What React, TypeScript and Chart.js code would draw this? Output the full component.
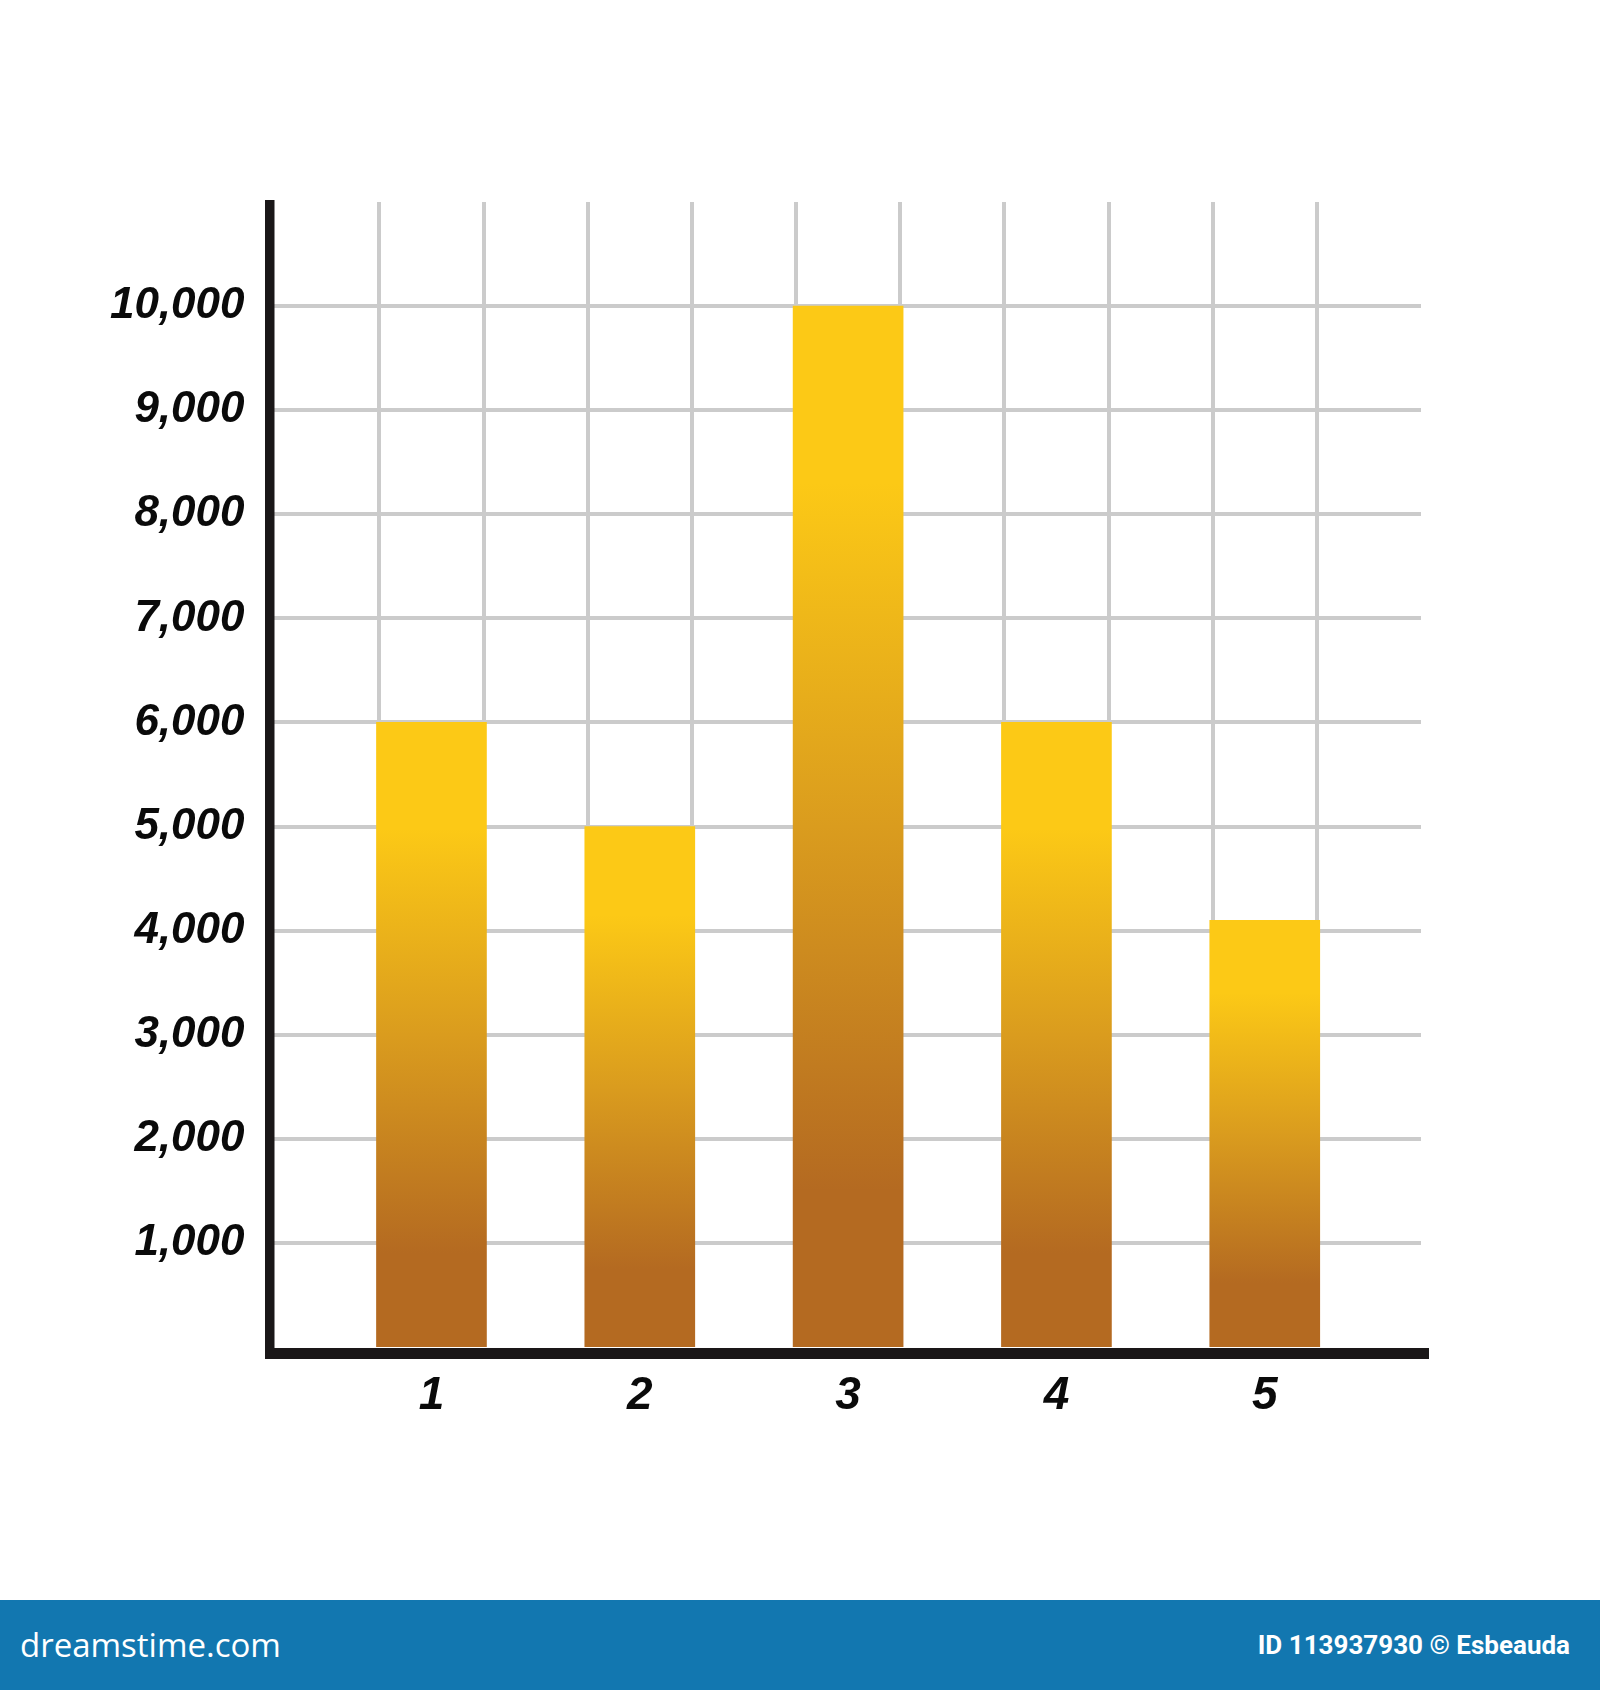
import React, { useEffect, useRef } from "react";
import { Chart, registerables } from "chart.js";

Chart.register(...registerables);

const categories: string[] = ["1", "2", "3", "4", "5"];
const values: number[] = [6000, 5000, 10000, 6000, 4100];
const yTickValues: number[] = [1000, 2000, 3000, 4000, 5000, 6000, 7000, 8000, 9000, 10000];
const gridColumns: number[] = [0, 1, 2, 3, 4, 5, 6, 7, 8, 9];

const YELLOW = "#FCC916";
const GOLD = "#DA9C1E";
const BROWN = "#B46A21";

export default function App() {
  const canvasRef = useRef<HTMLCanvasElement | null>(null);

  useEffect(() => {
    const canvas = canvasRef.current;
    if (!canvas) return;

    const barData = categories.map((c, i) => ({ x: 2 * i + 0.5, y: values[i], label: c }));
    const barCenters = barData.map((d) => d.x);

    const axisLines = {
      id: "axisLines",
      afterDatasetsDraw(chart: any) {
        const { ctx, chartArea } = chart;
        ctx.save();
        ctx.fillStyle = "#1a1718";
        // y axis
        ctx.fillRect(chartArea.left - 4.5, chartArea.top - 2, 9.5, chartArea.bottom - chartArea.top + 14);
        // x axis
        ctx.fillRect(chartArea.left - 4.5, chartArea.bottom + 1, chartArea.right - chartArea.left + 12.5, 11);
        ctx.restore();
      },
    };

    const chart = new Chart(canvas, {
      type: "bar",
      data: {
        datasets: [
          {
            data: barData as any,
            barThickness: 110,
            borderWidth: 0,
            backgroundColor: (ctx: any) => {
              const ch = ctx.chart;
              const area = ch.chartArea;
              if (!area || ctx.type !== "data" || !ch.scales.y) return YELLOW;
              const v = ctx.raw && typeof ctx.raw.y === "number" ? ctx.raw.y : 0;
              const yTop = ch.scales.y.getPixelForValue(v);
              const yBot = ch.scales.y.getPixelForValue(0);
              if (!isFinite(yTop) || !isFinite(yBot) || yTop === yBot) return YELLOW;
              const g = ch.ctx.createLinearGradient(0, yTop, 0, yBot);
              g.addColorStop(0, YELLOW);
              g.addColorStop(0.17, YELLOW);
              g.addColorStop(0.5, GOLD);
              g.addColorStop(0.85, BROWN);
              g.addColorStop(1, BROWN);
              return g;
            },
          },
        ],
      },
      options: {
        animation: false,
        responsive: false,
        maintainAspectRatio: false,
        layout: { padding: { top: 202, left: 0, right: 179, bottom: 153 } },
        plugins: {
          legend: { display: false },
          tooltip: { enabled: false },
          title: { display: false },
        },
        scales: {
          x: {
            type: "linear",
            min: -1.055,
            max: 10,
            offset: false,
            afterBuildTicks: (scale: any) => {
              const all = [...gridColumns, ...barCenters].sort((a, b) => a - b);
              scale.ticks = all.map((v) => ({ value: v }));
            },
            afterFit: (scale: any) => {
              scale.height = 100;
            },
            border: { display: false },
            grid: {
              display: true,
              offset: false,
              drawTicks: false,
              lineWidth: 4,
              color: (ctx: any) =>
                ctx.tick && Number.isInteger(ctx.tick.value) ? "#cbcbcb" : "rgba(0,0,0,0)",
            },
            ticks: {
              autoSkip: false,
              maxRotation: 0,
              minRotation: 0,
              padding: 22,
              color: "#0a0a0a",
              font: { family: "'Liberation Sans', Arial, sans-serif", size: 46, weight: "bold", style: "italic" },
              callback: (v: any) => {
                const idx = barCenters.indexOf(Number(v));
                return idx >= 0 ? categories[idx] : "";
              },
            },
          },
          y: {
            type: "linear",
            min: 0,
            max: 11000,
            afterBuildTicks: (scale: any) => {
              scale.ticks = yTickValues.map((v) => ({ value: v }));
            },
            afterFit: (scale: any) => {
              scale.width = 269.5;
            },
            border: { display: false },
            grid: {
              display: true,
              drawTicks: false,
              lineWidth: 4,
              color: "#cbcbcb",
            },
            ticks: {
              padding: 25,
              labelOffset: 0,
              color: "#0a0a0a",
              font: { family: "'Liberation Sans', Arial, sans-serif", size: 44, weight: "bold", style: "italic" },
              callback: (v: any) => Number(v).toLocaleString("en-US"),
            },
          },
        },
      },
      plugins: [axisLines],
    });

    return () => {
      chart.destroy();
    };
  }, []);

  return (
    <div style={{ position: "absolute", left: 0, top: 0, width: 1600, height: 1690, background: "#ffffff" }}>
      <canvas ref={canvasRef} width={1600} height={1600} style={{ display: "block", width: 1600, height: 1600 }} />
      <div
        style={{
          position: "absolute",
          left: 0,
          top: 1600,
          width: 1600,
          height: 90,
          background: "#1277B0",
          color: "#ffffff",
        }}
      >
        <div
          style={{
            position: "absolute",
            left: 20,
            top: 24,
            fontFamily: "'Open Sans', Lato, sans-serif",
            fontSize: 33,
            lineHeight: "42px",
          }}
        >
          dreamstime.com
        </div>
        <div
          style={{
            position: "absolute",
            right: 30,
            top: 30,
            fontFamily: "Roboto, 'Noto Sans', sans-serif",
            fontSize: 26,
            fontWeight: 700,
            lineHeight: "30px",
          }}
        >
          ID 113937930 © Esbeauda
        </div>
      </div>
    </div>
  );
}
